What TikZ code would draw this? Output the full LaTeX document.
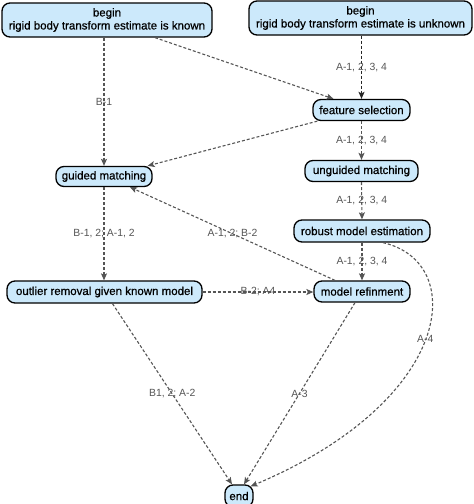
\documentclass[tikz,border=0pt]{standalone}
\usepackage{fontspec}
\setmainfont{Liberation Sans}
\newfontfamily\nodefont[FakeBold=0.6]{Liberation Sans}
\usetikzlibrary{arrows.meta}
\definecolor{nodefill}{RGB}{204,233,251}
\definecolor{edgegray}{RGB}{85,85,85}
\begin{document}
\begin{tikzpicture}[x=1pt,y=-1pt,
  box/.style={draw=black, line width=1.3pt, fill=nodefill, rounded corners=8pt,
    font=\nodefont\fontsize{11.5}{13}\selectfont, inner sep=0pt, align=center},
  conn/.style={draw=edgegray, line width=1.1pt, dash pattern=on 3pt off 2pt,
    -{Stealth[length=7pt,width=6pt,inset=1.5pt]}},
  lbl/.style={font=\fontsize{10.4}{12}\selectfont, text=edgegray, inner sep=0pt}]
\useasboundingbox (0,0) rectangle (474,504);

\node[box, minimum width=210pt, minimum height=34pt] (known) at (107,20) {begin\\rigid body transform estimate is known};
\node[box, minimum width=223pt, minimum height=34pt] (unknown) at (360.5,18) {begin\\rigid body transform estimate is unknown};
\node[box, minimum width=97pt, minimum height=21pt] (feat) at (361.5,110) {feature selection};
\node[box, minimum width=113pt, minimum height=21pt] (ung) at (361.5,171) {unguided matching};
\node[box, minimum width=96pt, minimum height=20pt] (gm) at (104,176.5) {guided matching};
\node[box, minimum width=136pt, minimum height=22pt] (rme) at (362,231) {robust model estimation};
\node[box, minimum width=96pt, minimum height=21pt] (mr) at (362,291.5) {model refinment};
\node[box, minimum width=195pt, minimum height=22pt] (orm) at (104.5,292) {outlier removal given known model};
\node[box, minimum width=28pt, minimum height=22pt] (end) at (239,496) {end};

\draw[conn] (gm.north |- known.south) -- (gm.north) node[lbl, midway] {B-1};
\draw[conn] ([xshift=48pt]known.south) -- ([xshift=-28pt]feat.north);
\draw[conn, draw=black!85] (feat.north |- unknown.south) -- (feat.north) node[lbl, midway] {A-1, 2, 3, 4};
\draw[conn] ([xshift=5pt]feat.south west) -- ([xshift=-5pt]gm.north east);
\draw[conn] (feat.south) -- (ung.north) node[lbl, midway] {A-1, 2, 3, 4};
\draw[conn] (ung.south) -- (rme.north) node[lbl, midway] {A-1, 2, 3, 4};
\draw[conn] (rme.south) -- (mr.north) node[lbl, midway] {A-1, 2, 3, 4};
\draw[conn] ([xshift=-27pt]mr.north) -- ([xshift=26pt]gm.south) node[lbl, midway] {A-1, 2; B-2};
\draw[conn] (gm.south) -- (gm.south |- orm.north) node[lbl, midway] {B-1, 2; A-1, 2};
\draw[conn] (orm.east) -- (orm.east -| mr.west) node[lbl, midway] {B-2; A4};
\draw[conn] ([xshift=8pt]orm.south) -- ([xshift=-7pt]end.north) node[lbl, midway] {B1, 2; A-2};
\draw[conn] ([xshift=-7pt]mr.south) -- ([xshift=5pt]end.north) node[lbl, midway] {A-3};
\draw[conn] ([xshift=21pt]rme.south) .. controls (468,262) and (455,400) .. ([xshift=-3pt,yshift=-2pt]end.north east) node[lbl, pos=0.5] {A-4};
\end{tikzpicture}
\end{document}
